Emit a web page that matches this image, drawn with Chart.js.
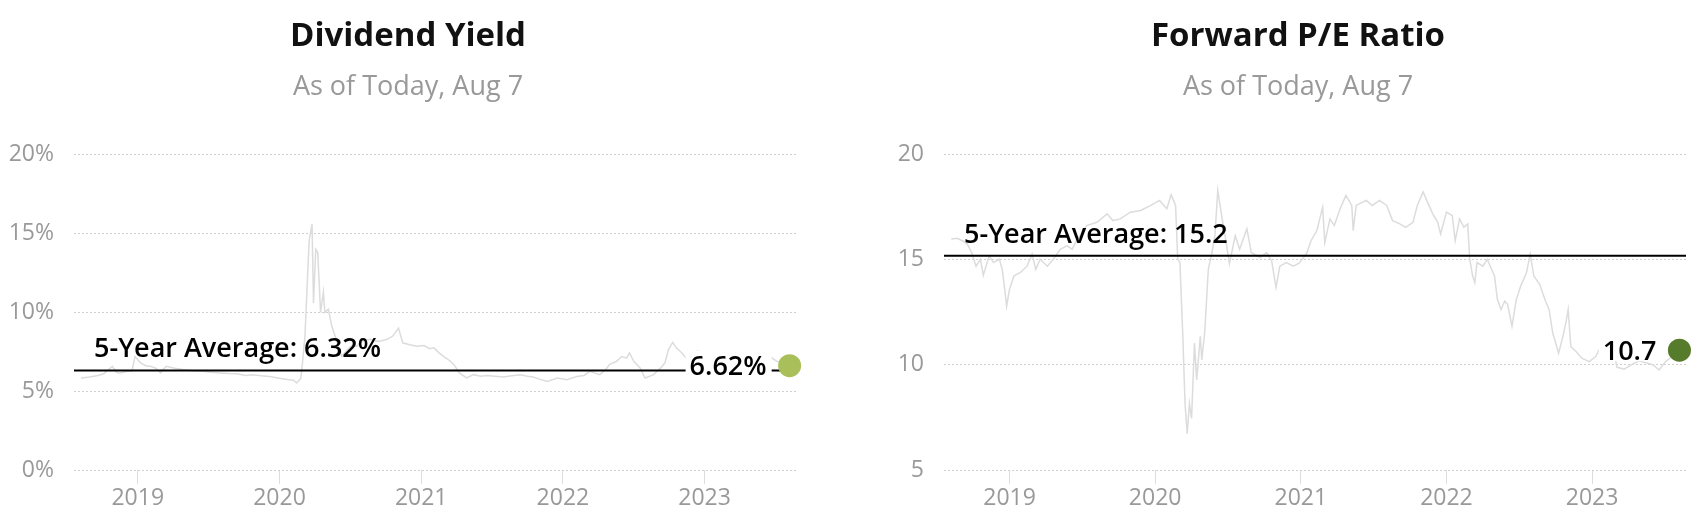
<!DOCTYPE html>
<html><head><meta charset="utf-8">
<script src="https://cdn.jsdelivr.net/npm/chart.js@4.4.0/dist/chart.umd.min.js"></script>
<style>
html,body{margin:0;padding:0;background:#fff;}
body{width:1698px;height:520px;position:relative;overflow:hidden;}
#w1{position:absolute;left:0;top:0;width:816px;height:520px;}
#w2{position:absolute;left:898px;top:0;width:800px;height:520px;}
</style></head><body>
<div id="w1"><canvas id="c1" width="816" height="520"></canvas></div>
<div id="w2"><canvas id="c2" width="800" height="520"></canvas></div>
<script>
// ---------- data ----------
const yearTicks = [2019, 2020, 2021, 2022, 2023];
const xMin = 2018.55, xMax = 2023.645;
const todayT = 2023.60;
const subtitleText = 'As of Today, Aug 7';

// Dividend Yield (decimal year, %)
const yieldT = [2018.60,2018.66,2018.72,2018.76,2018.82,2018.85,2018.875,2018.93,2018.96,2018.98,2019.02,2019.06,2019.09,2019.13,2019.16,2019.20,2019.26,2019.32,2019.39,2019.46,2019.52,2019.58,2019.64,2019.70,2019.76,2019.81,2019.87,2019.93,2019.98,2020.03,2020.07,2020.10,2020.12,2020.15,2020.16,2020.18,2020.20,2020.21,2020.23,2020.24,2020.256,2020.27,2020.29,2020.31,2020.32,2020.345,2020.37,2020.40,2020.44,2020.475,2020.51,2020.545,2020.59,2020.64,2020.70,2020.76,2020.80,2020.84,2020.87,2020.92,2020.97,2021.02,2021.06,2021.09,2021.13,2021.16,2021.20,2021.23,2021.27,2021.32,2021.37,2021.42,2021.46,2021.52,2021.58,2021.64,2021.70,2021.75,2021.79,2021.84,2021.89,2021.96,2022.03,2022.10,2022.15,2022.19,2022.26,2022.30,2022.33,2022.38,2022.415,2022.45,2022.47,2022.50,2022.545,2022.58,2022.64,2022.69,2022.72,2022.745,2022.775,2022.80,2022.84,2022.87,2022.90,2022.95,2023.00,2023.06,2023.12,2023.18,2023.24,2023.30,2023.36,2023.42,2023.46,2023.51,2023.56,2023.60];
const yieldV = [5.84,5.90,6.00,6.11,6.58,6.20,6.16,6.26,6.30,7.20,6.80,6.60,6.58,6.45,6.16,6.58,6.45,6.37,6.30,6.26,6.20,6.16,6.12,6.10,6.00,6.05,5.98,5.94,5.85,5.78,5.73,5.70,5.52,5.80,6.58,8.50,12.7,14.6,15.6,10.6,14.0,13.8,10.0,11.3,10.0,10.2,9.1,8.3,7.2,7.6,7.9,7.85,8.2,8.3,8.15,8.3,8.5,9.0,8.07,7.95,7.85,7.9,7.7,7.75,7.4,7.2,6.95,6.7,6.16,5.84,6.05,5.95,5.99,5.95,5.90,5.98,6.05,5.95,5.90,5.75,5.62,5.84,5.73,5.94,6.0,6.26,6.05,6.35,6.7,6.9,7.2,7.1,7.43,6.9,6.48,5.84,6.05,6.48,6.8,7.64,8.1,7.75,7.43,7.1,7.0,7.55,7.3,7.2,7.0,6.9,7.1,7.0,6.85,6.95,7.2,6.9,6.75,6.62];
const yieldAvg = 6.32;
const yieldNow = 6.62;
const yieldTicks = [0, 5, 10, 15, 20];

// Forward P/E Ratio (decimal year, ratio)
const peT = [2018.60,2018.64,2018.68,2018.71,2018.74,2018.77,2018.80,2018.82,2018.86,2018.89,2018.93,2018.95,2018.97,2018.98,2019.00,2019.03,2019.075,2019.12,2019.155,2019.18,2019.21,2019.26,2019.30,2019.35,2019.395,2019.43,2019.46,2019.53,2019.60,2019.67,2019.71,2019.76,2019.83,2019.90,2019.97,2020.03,2020.08,2020.11,2020.14,2020.155,2020.17,2020.19,2020.205,2020.22,2020.235,2020.25,2020.27,2020.285,2020.31,2020.32,2020.34,2020.365,2020.39,2020.41,2020.43,2020.46,2020.48,2020.51,2020.55,2020.58,2020.63,2020.66,2020.72,2020.765,2020.80,2020.83,2020.856,2020.90,2020.95,2020.99,2021.04,2021.07,2021.11,2021.13,2021.15,2021.165,2021.20,2021.23,2021.27,2021.31,2021.35,2021.36,2021.38,2021.45,2021.49,2021.54,2021.59,2021.63,2021.68,2021.72,2021.77,2021.80,2021.84,2021.87,2021.906,2021.94,2021.96,2022.00,2022.04,2022.06,2022.09,2022.12,2022.146,2022.16,2022.18,2022.195,2022.21,2022.25,2022.28,2022.31,2022.33,2022.35,2022.375,2022.40,2022.42,2022.45,2022.48,2022.51,2022.55,2022.575,2022.60,2022.64,2022.68,2022.705,2022.73,2022.75,2022.77,2022.80,2022.82,2022.836,2022.854,2022.89,2022.93,2022.98,2023.025,2023.06,2023.10,2023.14,2023.17,2023.22,2023.27,2023.32,2023.37,2023.42,2023.46,2023.505,2023.55,2023.60];
const peV = [15.99,16.03,15.9,15.75,15.35,14.7,15.03,14.27,15.19,14.87,15.03,14.55,13.44,12.8,13.6,14.23,14.4,14.7,15.27,14.55,15.03,14.7,15.03,15.51,15.67,15.51,15.9,16.63,16.79,17.19,16.87,16.95,17.27,17.35,17.59,17.83,17.43,18.1,17.59,15.03,14.87,11.36,8.17,6.73,8.17,7.45,11.04,9.29,11.36,10.24,11.52,14.55,15.35,16.15,18.3,16.95,16.15,14.82,16.15,15.51,16.47,15.35,15.11,15.35,14.95,13.68,14.7,14.87,14.7,14.85,15.3,15.91,16.39,16.95,17.51,15.83,16.95,16.63,17.43,18.07,17.59,16.39,17.59,17.83,17.59,17.83,17.59,16.87,16.71,16.55,16.79,17.59,18.23,17.75,17.19,16.79,16.23,17.27,17.11,15.91,16.95,16.55,16.71,15.03,14.23,13.92,14.87,14.7,15.03,14.55,14.23,13.12,12.64,13.04,12.88,11.84,13.12,13.75,14.4,15.27,14.23,13.84,13.04,12.64,11.52,11.04,10.56,11.36,12.0,12.64,10.88,10.64,10.32,10.16,10.4,10.88,11.0,11.1,9.9,9.8,10.0,10.2,10.1,10.0,9.76,10.16,10.4,10.7];
const peAvg = 15.2;
const peNow = 10.7;
const peTicks = [5, 10, 15, 20];

// ---------- rendering ----------
Chart.defaults.font.family = "'Open Sans', sans-serif";

const labelPlugin = {
  id: 'valueLabels',
  afterDatasetDraw(chart, args, opts) {
    if (args.index !== 1) return;
    const ctx = chart.ctx, xs = chart.scales.x, ys = chart.scales.y, ca = chart.chartArea;
    ctx.save();
    ctx.font = '600 27px "Open Sans"';
    ctx.fillStyle = '#000';
    ctx.textAlign = 'left';
    ctx.textBaseline = 'alphabetic';
    ctx.fillText(opts.avgText, ca.left + 20, ys.getPixelForValue(opts.avg) - 13);
    const px = xs.getPixelForValue(opts.nowT), py = ys.getPixelForValue(opts.now);
    const w = ctx.measureText(opts.nowText).width;
    const right = px - 23;
    ctx.fillStyle = '#fff';
    ctx.fillRect(right - w - 4, py - 15, w + 9, 26);
    ctx.fillStyle = '#000';
    ctx.textAlign = 'right';
    ctx.fillText(opts.nowText, right, py + 9.7);
    ctx.restore();
  }
};

function makeChart(id, c) {
  return new Chart(document.getElementById(id), {
    type: 'line',
    data: {
      datasets: [
        { data: [{x: todayT, y: c.now}], showLine: false, pointRadius: 11.5,
          pointBackgroundColor: c.pointColor, pointBorderWidth: 0, clip: false },
        { data: [{x: xMin, y: c.avg}, {x: xMax, y: c.avg}], borderColor: '#000',
          borderWidth: 2, pointRadius: 0 },
        { data: c.t.map((x, i) => ({x, y: c.v[i]})), borderColor: '#dcdcdc',
          borderWidth: 1.5, pointRadius: 0, tension: 0 }
      ]
    },
    options: {
      responsive: false, animation: false, events: [],
      layout: { padding: 0 },
      plugins: {
        legend: { display: false }, tooltip: { enabled: false },
        title: { display: true, text: c.title, color: '#111',
                 font: { size: 33, weight: 'bold' }, padding: { top: 16.5, bottom: 0 } },
        subtitle: { display: true, text: subtitleText, color: '#999',
                    font: { size: 27, weight: 'normal' }, padding: { top: 15, bottom: 51.3 } },
        valueLabels: { avg: c.avg, now: c.now, nowT: todayT, avgText: c.avgText, nowText: c.nowText }
      },
      scales: {
        x: {
          type: 'linear', min: xMin, max: xMax,
          afterBuildTicks: s => { s.ticks = yearTicks.map(v => ({value: v})); },
          afterFit: s => { s.height = 50; },
          ticks: { callback: v => String(v), color: '#999', font: { size: 23 }, padding: 1,
                   maxRotation: 0, autoSkip: false },
          grid: { drawOnChartArea: false, drawTicks: true, tickLength: 14, color: '#ddd', lineWidth: 1 },
          border: { display: false }
        },
        y: {
          min: c.yTicks[0], max: c.yTicks[c.yTicks.length - 1],
          afterBuildTicks: s => { s.ticks = c.yTicks.map(v => ({value: v})); },
          afterFit: s => { s.width = c.yWidth; },
          ticks: { callback: c.fmt, color: '#999', font: { size: 23 }, padding: 20 },
          grid: { drawTicks: false, color: '#cfcfcf', lineWidth: 1 },
          border: { display: false, dash: [2, 2] }
        },
        // empty right-hand gutter so the title centres over the whole panel
        gutter: {
          type: 'linear', position: 'right', display: true,
          afterFit: s => { s.width = c.gutter; },
          ticks: { display: false }, grid: { display: false }, border: { display: false }
        }
      }
    },
    plugins: [labelPlugin]
  });
}

makeChart('c1', { title: 'Dividend Yield', t: yieldT, v: yieldV, avg: yieldAvg, now: yieldNow,
  yTicks: yieldTicks, fmt: v => v + '%', pointColor: '#a9c05a',
  avgText: '5-Year Average: ' + yieldAvg.toFixed(2) + '%', nowText: yieldNow.toFixed(2) + '%',
  yWidth: 74, gutter: 20 });

makeChart('c2', { title: 'Forward P/E Ratio', t: peT, v: peV, avg: peAvg, now: peNow,
  yTicks: peTicks, fmt: v => String(v), pointColor: '#567b2a',
  avgText: '5-Year Average: ' + peAvg.toFixed(1), nowText: peNow.toFixed(1),
  yWidth: 46, gutter: 12 });
</script>
</body></html>
